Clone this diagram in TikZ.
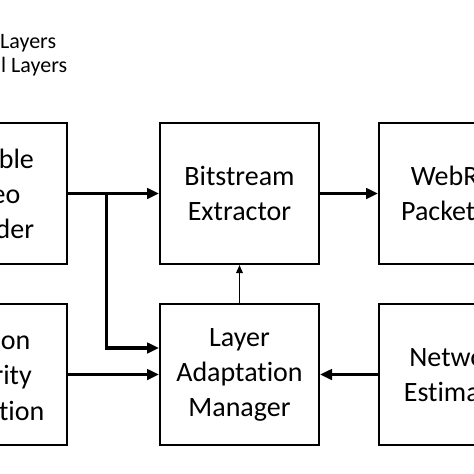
\documentclass[tikz,border=0pt]{standalone}
\usepackage{fontspec}
\setmainfont{Carlito}[RawFeature={-liga;-clig;-dlig}]
\usetikzlibrary{arrows.meta,calc}
\begin{document}
\begin{tikzpicture}[x=1pt,y=-1pt,
  blk/.style={draw,line width=2pt,minimum width=159pt,minimum height=141pt,inner sep=0pt,align=center,font=\fontsize{28}{35}\selectfont},
  frag/.style={inner sep=0pt,anchor=base east,font=\fontsize{28}{35}\selectfont},
  legend/.style={inner sep=0pt,anchor=base west,font=\fontsize{22}{26}\selectfont},
  thickarrow/.style={line width=3.3pt,-{Triangle[length=12pt,width=10.5pt]}},
  thinarrow/.style={line width=1.5pt,-{Triangle[length=8pt,width=6.5pt]}}]
\useasboundingbox (0,0) rectangle (474,474);
\clip (0,0) rectangle (474,474);
% legend text
\node[legend] (lg1) at (0,48) {Layers};
\node[legend] (lg2) at (1,72) {l Layers};
% boxes
\node[blk] (enc) at (-12.5,193.5) {Scalable\\Video\\Encoder};
\node[blk] (bse) at (239.5,193.5) {Bitstream\\Extractor};
\node[blk] (pkt) at (458.5,193.5) {WebRTC\\Packetizer};
\node[blk] (pri) at (-12.5,374.5) {};
\node[blk] (lam) at (239.5,374.5) {Layer\\Adaptation\\Manager};
\node[blk] (net) at (458.5,374.5) {Network\\Estimator};
% fragments of the cropped bottom-left label
\node[frag] (f1) at (30.5,349) {on};
\node[frag] (f2) at (32,384) {rity};
\node[frag] (f3) at (44.5,420) {tion};
% connectors
\draw[thickarrow] (enc.east) -- (bse.west);
\coordinate (j) at ($(enc.east)!0.42!(bse.west)$);
\draw[thickarrow] (j) |- ($(lam.west)+(0,-26.5)$);
\draw[thickarrow] (pri.east) -- (lam.west);
\draw[thickarrow] (bse.east) -- (pkt.west);
\draw[thickarrow] (net.west) -- (lam.east);
\draw[thinarrow] (lam.north) -- (bse.south);
\end{tikzpicture}
\end{document}
